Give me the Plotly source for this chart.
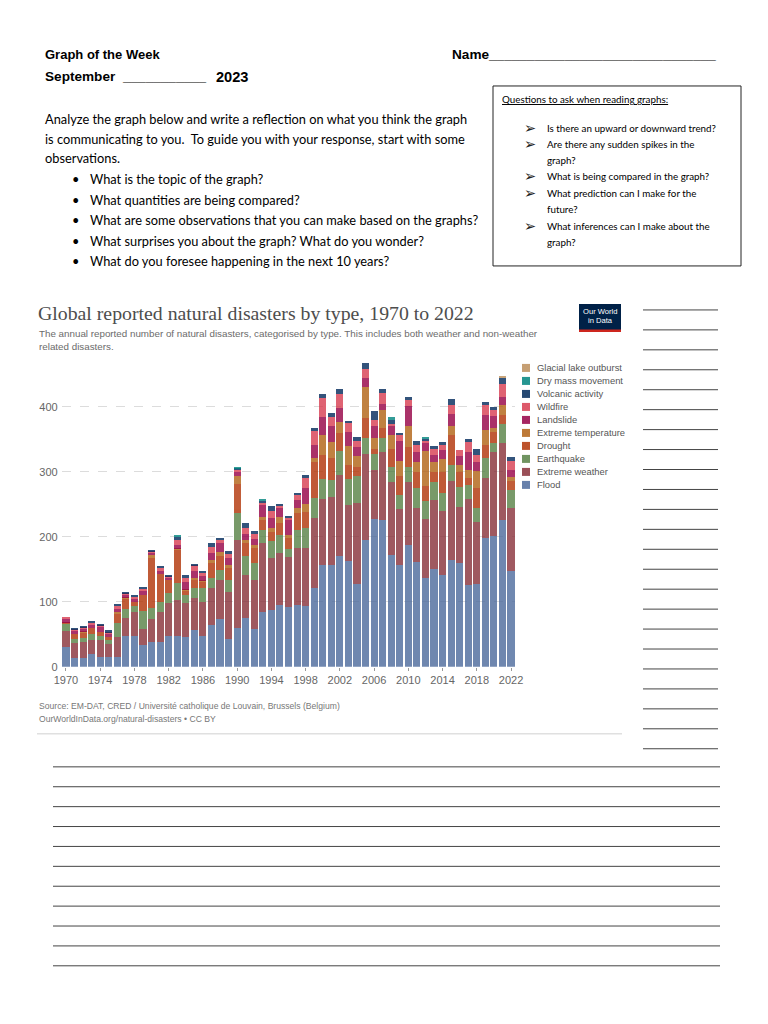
import plotly.graph_objects as go

# ---------------- data ----------------
years = list(range(1970, 2023))

flood = [31, 14, 14, 20, 15, 15, 15, 47, 47, 33, 38, 38, 47, 47, 46, 56, 48, 65, 74, 43,
         60, 75, 58, 84, 88, 95, 92, 95, 94, 121, 157, 157, 171, 163, 127, 195, 228, 226, 172, 156,
         188, 161, 136, 150, 142, 165, 160, 126, 127, 199, 201, 226, 148]
extreme_weather = [24, 22, 24, 22, 27, 20, 31, 28, 37, 26, 36, 47, 52, 56, 53, 50, 52, 57, 60, 72,
                   135, 66, 76, 107, 80, 80, 77, 88, 89, 108, 101, 105, 124, 86, 125, 132, 75, 104, 113, 87,
                   97, 84, 92, 106, 98, 121, 86, 132, 96, 91, 129, 119, 97]
earthquake = [11, 7, 6, 8, 5, 6, 21, 14, 10, 27, 17, 15, 14, 26, 12, 16, 22, 15, 15, 19,
              41, 29, 26, 20, 25, 28, 12, 28, 30, 31, 31, 26, 37, 40, 41, 25, 24, 22, 23, 22,
              23, 30, 27, 29, 27, 24, 31, 22, 21, 32, 15, 28, 27]
drought = [2, 7, 8, 10, 6, 5, 15, 15, 6, 25, 76, 43, 20, 51, 6, 12, 8, 23, 22, 18,
           45, 20, 23, 15, 15, 19, 17, 25, 26, 56, 37, 33, 28, 22, 15, 31, 9, 15, 28, 28,
           31, 25, 23, 15, 33, 47, 23, 10, 31, 20, 17, 15, 14]
extreme_temperature = [0, 0, 2, 0, 0, 0, 2, 2, 0, 0, 5, 0, 0, 2, 2, 2, 2, 5, 5, 5,
                       13, 5, 4, 5, 6, 8, 5, 9, 12, 6, 31, 25, 17, 29, 16, 48, 16, 28, 21, 24,
                       31, 15, 54, 15, 20, 13, 10, 13, 27, 22, 5, 15, 6]
landslide = [5, 5, 4, 5, 8, 4, 5, 4, 4, 5, 3, 5, 4, 5, 12, 12, 8, 10, 14, 10,
             6, 10, 10, 18, 15, 14, 23, 12, 24, 20, 28, 24, 21, 21, 15, 13, 18, 9, 13, 31,
             31, 16, 12, 11, 14, 19, 15, 28, 14, 24, 19, 13, 11]
wildfire = [3, 2, 2, 3, 2, 2, 4, 2, 3, 4, 2, 4, 2, 8, 5, 8, 4, 10, 5, 7,
            3, 8, 8, 3, 11, 3, 3, 8, 15, 21, 29, 15, 22, 14, 9, 14, 10, 18, 4, 9,
            9, 10, 3, 9, 7, 14, 9, 15, 10, 15, 9, 19, 14]
volcanic = [0, 3, 2, 2, 2, 4, 3, 3, 3, 3, 1, 2, 2, 5, 5, 2, 2, 5, 4, 5,
            2, 8, 4, 3, 8, 3, 3, 3, 5, 5, 6, 6, 8, 3, 5, 9, 13, 6, 6, 2,
            5, 7, 3, 5, 5, 9, 0, 4, 9, 5, 5, 9, 6]
dry_mass = [0, 0, 0, 0, 0, 0, 0, 0, 0, 0, 0, 0, 0, 2, 0, 0, 0, 0, 0, 0,
            2, 0, 0, 2, 0, 0, 0, 0, 0, 0, 0, 0, 0, 0, 0, 0, 0, 0, 5, 0,
            0, 0, 2, 0, 0, 0, 0, 0, 0, 0, 0, 0, 0]
glacial = [0] * 51 + [2, 0]

series_names = ["Flood", "Extreme weather", "Earthquake", "Drought", "Extreme temperature",
                "Landslide", "Wildfire", "Volcanic activity", "Dry mass movement",
                "Glacial lake outburst"]
series_values = [flood, extreme_weather, earthquake, drought, extreme_temperature,
                 landslide, wildfire, volcanic, dry_mass, glacial]
series_colors = ["#4C6A9C", "#883039", "#578145", "#B13507", "#B16214",
                 "#970046", "#D73C50", "#00295B", "#00847E", "#BC8E5A"]

x_tick_years = list(range(1970, 2023, 4))
y_ticks = [0, 100, 200, 300, 400]

# ---------------- helpers ----------------
W, H = 768, 1024
# the rendered page maps paper space onto a slightly smaller, offset area
OX, SX, SY = 8.0, 752.0, 1018.2


def X(px):
    return (px - OX) / SX


def Y(py):
    return 1 - py / SY


fig = go.Figure()
for name, vals, col in zip(series_names, series_values, series_colors):
    fig.add_trace(go.Bar(x=years, y=vals, name=name, marker_color=col, opacity=0.8,
                         marker_line_width=0, showlegend=False))

annotations = []
shapes = []


def txt(x, y, s, size, color="#000", family="Lato", xanchor="left", bold=False):
    if bold:
        s = "<b>" + s + "</b>"
    annotations.append(dict(x=X(x), y=Y(y), xref="paper", yref="paper", text=s,
                            showarrow=False, xanchor=xanchor, yanchor="middle",
                            borderpad=0, font=dict(size=size, color=color, family=family)))


def hline(x0, x1, y, color="#333", width=1):
    shapes.append(dict(type="line", xref="paper", yref="paper", x0=X(x0), x1=X(x1),
                       y0=Y(y), y1=Y(y), line=dict(color=color, width=width)))


HEAD = "Liberation Sans Narrow, Arial Narrow, Liberation Sans"
BODY = "Lato"

# header
txt(44, 55, "Graph of the Week", 13.0, family=HEAD, bold=True)
txt(451, 55, "Name______________________________", 13.6, family=HEAD, bold=True)
txt(44, 77, "September", 13.6, family=HEAD, bold=True)
txt(121, 77, "___________", 13.6, family=HEAD, bold=True)
txt(215, 77, "2023", 14.6, family=HEAD, bold=True)

para = ["Analyze the graph below and write a reflection on what you think the graph",
        "is communicating to you.  To guide you with your response, start with some",
        "observations."]
for i, line in enumerate(para):
    txt(44, 119 + i * 19.7, line, 12.8, family=BODY)

bullets = ["What is the topic of the graph?",
           "What quantities are being compared?",
           "What are some observations that you can make based on the graphs?",
           "What surprises you about the graph? What do you wonder?",
           "What do you foresee happening in the next 10 years?"]
for i, b in enumerate(bullets):
    yy = 179 + i * 20.6
    txt(71, yy, "•", 12.8, family=BODY)
    txt(89, yy, b, 12.8, family=BODY)

# question box
shapes.append(dict(type="rect", xref="paper", yref="paper", x0=X(493), x1=X(741),
                   y0=Y(266), y1=Y(86), line=dict(color="#222", width=1)))
txt(501, 99, "<u>Questions to ask when reading graphs:</u>", 9.8, family=BODY)
q_lines = [("➢", "Is there an upward or downward trend?", 128),
           ("➢", "Are there any sudden spikes in the", 144),
           ("", "graph?", 160),
           ("➢", "What is being compared in the graph?", 176),
           ("➢", "What prediction can I make for the", 193),
           ("", "future?", 209),
           ("➢", "What inferences can I make about the", 226),
           ("", "graph?", 242)]
for arrow, t, yy in q_lines:
    if arrow:
        txt(523, yy, arrow, 14.5, color="#222", family="DejaVu Sans")
    txt(546, yy, t, 9.8, family=BODY)

# chart title block
txt(37, 313, "Global reported natural disasters by type, 1970 to 2022", 19.8,
    color="#4d4d4d", family="Liberation Serif")
txt(38, 334, "The annual reported number of natural disasters, categorised by type. This includes both weather and non-weather",
    9.8, color="#6b6b6b", family="Liberation Sans")
txt(38, 347, "related disasters.", 9.8, color="#6b6b6b", family="Liberation Sans")

# OWID logo
shapes.append(dict(type="rect", xref="paper", yref="paper", x0=X(579), x1=X(621),
                   y0=Y(331), y1=Y(304), fillcolor="#002147", line=dict(width=0)))
shapes.append(dict(type="rect", xref="paper", yref="paper", x0=X(579), x1=X(621),
                   y0=Y(332), y1=Y(329.5), fillcolor="#CE261E", line=dict(width=0)))
txt(600, 312, "Our World", 7.6, color="#ffffff", family="Liberation Sans Narrow, Liberation Sans",
    xanchor="center")
txt(600, 321, "in Data", 7.6, color="#ffffff", family="Liberation Sans Narrow, Liberation Sans",
    xanchor="center")

# legend (top = last series)
for i, (name, col) in enumerate(zip(series_names[::-1], series_colors[::-1])):
    yy = 368 + i * 13
    shapes.append(dict(type="rect", xref="paper", yref="paper", x0=X(522), x1=X(530),
                       y0=Y(yy + 4), y1=Y(yy - 4), fillcolor=col, opacity=0.85,
                       line=dict(width=0)))
    txt(536, yy, name, 9.4, color="#555", family="Liberation Sans")

# source
txt(38, 706, "Source: EM-DAT, CRED / Université catholique de Louvain, Brussels (Belgium)",
    8.6, color="#777", family="Liberation Sans")
txt(38, 719, "OurWorldInData.org/natural-disasters • CC BY", 8.6, color="#777",
    family="Liberation Sans")
hline(37, 622, 734, color="#d0d0d0", width=1)

# right-side answer lines
for i in range(23):
    hline(643, 718, 310 + i * 19.95, color="#444", width=1)
# bottom answer lines
for i in range(11):
    hline(53, 720, 767 + i * 19.9, color="#444", width=1)

fig.update_layout(
    width=W, height=H, autosize=False, margin=dict(l=0, r=0, t=0, b=0),
    paper_bgcolor="white", plot_bgcolor="white",
    barmode="stack", bargap=0.17,
    annotations=annotations, shapes=shapes, showlegend=False,
    xaxis=dict(domain=[X(61.7), X(515.3)], range=[1969.5, 2022.5],
               tickmode="array", tickvals=x_tick_years, ticks="outside", ticklen=3,
               tickcolor="#999", tickfont=dict(size=11, color="#666", family="Liberation Sans"),
               showgrid=False, zeroline=False, showline=False),
    yaxis=dict(domain=[Y(667), Y(361.5)], range=[0, 470],
               tickmode="array", tickvals=y_ticks, ticks="",
               tickfont=dict(size=11, color="#666", family="Liberation Sans"),
               showgrid=True, gridcolor="#dcdcdc", griddash="dash", gridwidth=1,
               zeroline=False, showline=False, ticklabelstandoff=3),
)

fig.write_html(
    "out.html",
    config={"responsive": False, "displayModeBar": False},
    post_script="document.documentElement.style.margin='0';document.body.style.margin='0';"
                "document.body.style.overflow='hidden';",
)
